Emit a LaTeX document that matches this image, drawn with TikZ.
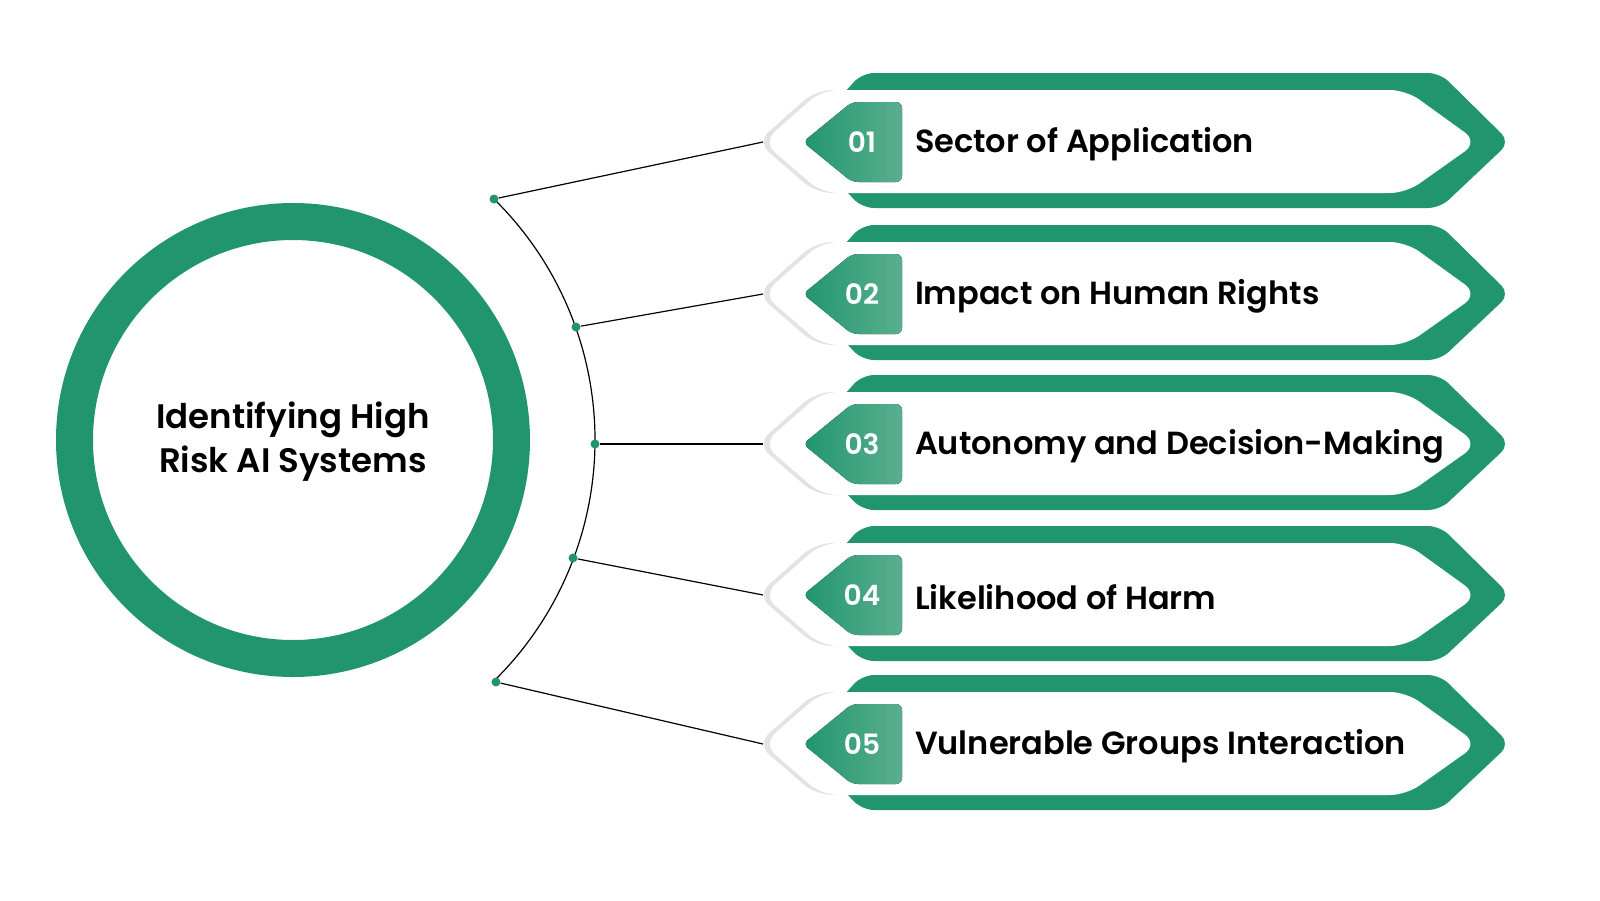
\documentclass[tikz,border=0pt]{standalone}
\usepackage{fontspec}
\setmainfont{Poppins}[BoldFont={Poppins SemiBold}]
\usetikzlibrary{shadows,calc}
\definecolor{gr}{HTML}{21966E}
\definecolor{grl}{HTML}{5AAE90}
\begin{document}
\begin{tikzpicture}[x=0.5pt,y=-0.5pt,
  back/.style={fill=gr,rounded corners=6pt},
  front/.style={fill=white,rounded corners=8pt,drop shadow={shadow xshift=-3pt,shadow yshift=0pt,opacity=0.22}},
  tab/.style={left color=gr,right color=grl,rounded corners=3pt},
  num/.style={text=white,font=\fontsize{14}{14}\selectfont\bfseries},
  lab/.style={anchor=west,font=\fontsize{16}{18}\selectfont\bfseries},
  dot/.style={circle,fill=gr,inner sep=0pt,minimum size=4.5pt},
  con/.style={line width=0.6pt,black}]
\useasboundingbox (0,0) rectangle (1600,900);
\fill[white] (0,0) rectangle (1600,900);
% circle
\draw[gr,line width=18.5pt] (293,440) circle (218.5);
\node[align=center,font=\fontsize{17}{22}\selectfont\bfseries] (c) at (293,442) {Identifying High\\Risk AI Systems};
% arc
\draw[con] (494,199) arc[start angle={atan2(-241,237)},end angle={-atan2(-241,237)},radius=338];
\foreach \i/\y/\t/\px/\py in {1/142/Sector of Application/494/199,2/294/Impact on Human Rights/576/327,3/444/Autonomy and Decision-Making/595/444,4/595/Likelihood of Harm/573/558,5/744/Vulnerable Groups Interaction/496/682}{
  \fill[back] (862,\y-69) -- (1440,\y-69) -- (1510,\y) -- (1440,\y+66) -- (862,\y+66) -- (800,\y) -- cycle;
  \path[front] (822,\y-52) -- (1406,\y-52) -- (1478,\y) -- (1406,\y+51) -- (822,\y+51) -- (763,\y) -- cycle;
  \fill[tab] (852,\y-40) -- (902,\y-40) -- (902,\y+40) -- (852,\y+40) -- (803,\y) -- cycle;
  \node[num] (n\i) at (862,\y) {0\i};
  \node[lab] (l\i) at (908,\y+2) {\t};
  \coordinate (tip\i) at (763,\y);
  \node[dot] (d\i) at (\px,\py) {};
  \draw[con] (d\i) -- (tip\i);
}
\end{tikzpicture}
\end{document}
